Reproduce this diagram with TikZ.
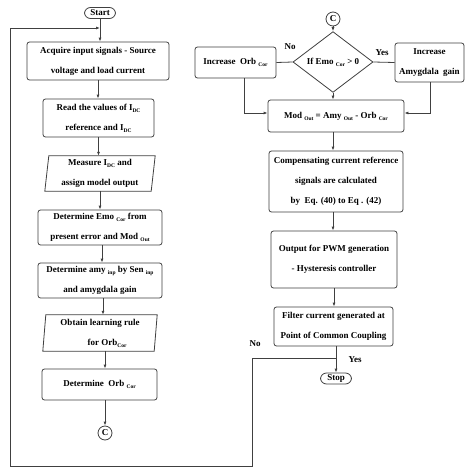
\documentclass[tikz,border=0pt]{standalone}
\usepackage{fontspec}
\setmainfont{Liberation Serif}
\usetikzlibrary{shapes.geometric,arrows.meta}
\newcommand\lowsub[1]{\raisebox{-0.5ex}{\fontsize{5.5}{5.5}\selectfont #1}}
\begin{document}
\begin{tikzpicture}[x=1pt,y=-1pt,
  every node/.style={font=\bfseries\fontsize{9}{20}\selectfont, align=center, inner sep=0pt},
  bx/.style={draw=black!75, line width=0.8pt, rounded corners=2.5pt},
  term/.style={draw=black!75, line width=0.8pt, rounded corners=6pt, minimum width=31pt, minimum height=11pt},
  conn/.style={draw=black!75, line width=0.8pt, circle, minimum size=14pt},
  ln/.style={draw=black!75, line width=0.8pt},
  arr/.style={ln, -{Latex[length=4pt,width=3pt]}},
  lbl/.style={font=\bfseries\fontsize{9}{10}\selectfont}
]
\useasboundingbox (0,0) rectangle (474,474);
\fill[white] (0,0) rectangle (474,474);

% ---------- left column ----------
\node[term] (start) at (100,13) {Start};
\node[bx, minimum width=142pt, minimum height=38pt] (b1) at (98,61)
  {Acquire input signals - Source\\voltage and load current};
\node[bx, minimum width=111pt, minimum height=38pt] (b2) at (98.5,118)
  {Read the values of I\lowsub{DC}\\reference and I\lowsub{DC}};
\node[minimum width=110pt, minimum height=35pt] (p1) at (100,173.5)
  {Measure I\lowsub{DC} and\\assign model output};
\draw[ln] ([xshift=4pt]p1.north west) -- (p1.north east) -- ([xshift=-4pt]p1.south east) -- (p1.south west) -- cycle;
\node[bx, minimum width=124pt, minimum height=35pt] (b4) at (100,227.5)
  {Determine Emo \lowsub{Cor} from\\present error and Mod \lowsub{Out}};
\node[bx, minimum width=124pt, minimum height=35pt] (b5) at (100,280.5)
  {Determine amy \lowsub{inp} by Sen \lowsub{inp}\\and amygdala gain};
\node[minimum width=114pt, minimum height=36pt] (p2) at (100,333)
  {Obtain learning rule\\\hspace*{14pt}for Orb\lowsub{Cor}};
\draw[ln] ([xshift=3pt]p2.north west) -- (p2.north east) -- ([xshift=-3pt]p2.south east) -- (p2.south west) -- cycle;
\node[bx, minimum width=115pt, minimum height=31pt] (b7) at (99.5,384.5)
  {Determine\ \ Orb \lowsub{Cor}};
\node[conn] (c1) at (105,433) {C};

\draw[arr] (start) -- (start.south |- b1.north);
\draw[arr] (b1) -- (b1.south |- b2.north);
\draw[arr] (b2.south) -- (b2.south |- p1.north);
\draw[arr] (p1.south) -- (p1.south |- b4.north);
\draw[arr] ([xshift=2pt]b4.south) -- ([xshift=2pt]b4.south |- b5.north);
\draw[arr] ([xshift=3pt]b5.south) -- ([xshift=3pt]b5.south |- p2.north);
\draw[arr] (p2.south -| c1) -- (b7.north -| c1);
\draw[arr] (b7.south -| c1) -- (c1);

% ---------- right column ----------
\node[conn] (c2) at (333,19) {C};
\node[draw=black!75, line width=0.8pt, diamond, minimum width=80pt, minimum height=45pt] (d) at (333,62)
  {If Emo \lowsub{Cor} > 0};
\node[bx, minimum width=81pt, minimum height=31pt] (io) at (235.5,62.5)
  {Increase\ \ Orb \lowsub{Cor}};
\node[bx, minimum width=69pt, minimum height=39pt] (ia) at (429.5,62.5)
  {Increase\\Amygdala\ \ gain};
\node[bx, minimum width=136pt, minimum height=32pt] (mod) at (336,116)
  {Mod \lowsub{Out} = Amy \lowsub{Out} - Orb \lowsub{Cor}};
\node[bx, minimum width=134pt, minimum height=61pt] (comp) at (336,181.5)
  {Compensating current reference\\signals are calculated\\by\ \ Eq. (40) to Eq . (42)};
\node[bx, minimum width=126pt, minimum height=57pt] (pwm) at (334,259.5)
  {Output for PWM generation\\- Hysteresis controller};
\node[bx, minimum width=119pt, minimum height=39pt] (filt) at (333.5,326.5)
  {Filter current generated at\\Point of Common Coupling};
\node[term] (stop) at (336,378.5) {Stop};

\node[lbl] at (290,47) {No};
\node[lbl] at (382,53) {Yes};
\node[lbl] at (355,360) {Yes};
\node[lbl] at (255,344) {No};

\draw[arr] (c2) -- (d);
\draw[ln] (d.west) -- (io.east);
\draw[ln] (d.east) -- (ia.west);
\draw[arr] (d.south) -- (d.south |- mod.north);
\coordinate (ioL) at (244,113);
\coordinate (iaR) at (430,113);
\draw[arr] (io.south -| ioL) -- (ioL) -- (ioL -| mod.west);
\draw[arr] (ia.south -| iaR) -- (iaR) -- (iaR -| mod.east);
\draw[arr] (mod.south -| d) -- (comp.north -| d);
\draw[arr] (comp.south -| d) -- (pwm.north -| d);
\draw[arr] (pwm.south) -- (pwm.south |- filt.north);
\draw[arr] (filt.south -| stop) -- (stop);

% ---------- feedback loop ----------
\coordinate (j) at (336,358);
\coordinate (k1) at (252,358);
\coordinate (k2) at (252,466);
\coordinate (k3) at (10,466);
\coordinate (k4) at (10,28);
\coordinate (k5) at (100,28);
\draw[arr] (j) -- (k1) -- (k2) -- (k3) -- (k4) -- (k5);
\end{tikzpicture}
\end{document}
